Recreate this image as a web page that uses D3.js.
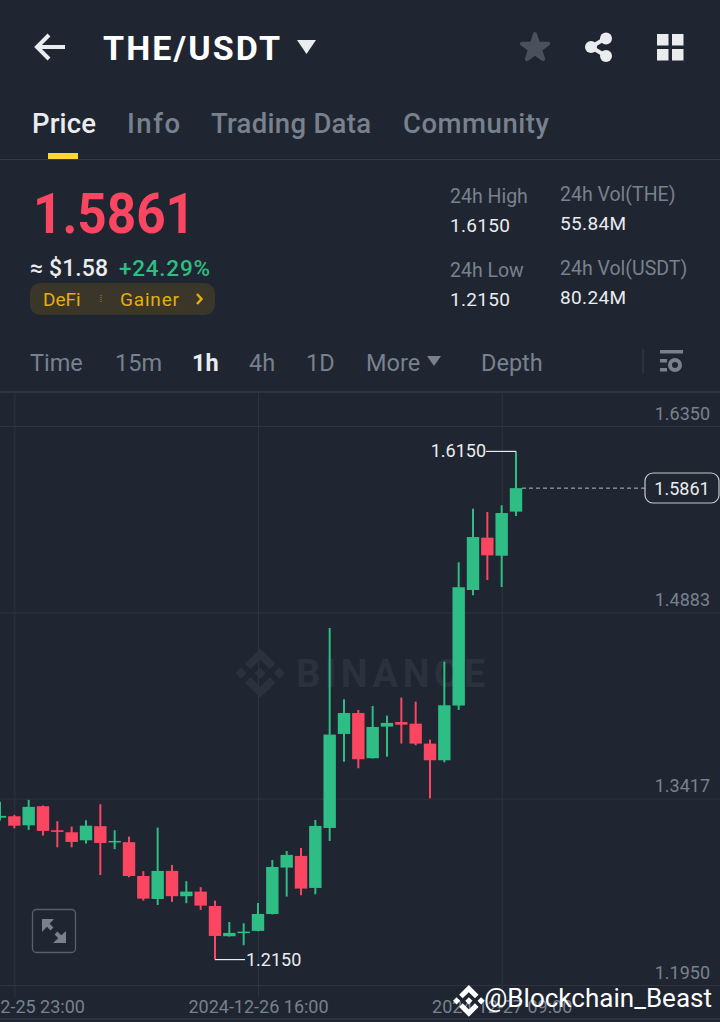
<!DOCTYPE html>
<html>
<head>
<meta charset="utf-8">
<script src="https://cdn.jsdelivr.net/npm/d3@7"></script>
<style>
  html, body { margin: 0; padding: 0; background: #1f2631; overflow: hidden; }
  text { font-family: Roboto, "Noto Sans", sans-serif; }
</style>
</head>
<body>
<svg id="chart" width="720" height="1022"></svg>
<script>
// candle data, hour offset is counted from 2024-12-25 22:00
const hours = [0,1,2,3,4,5,6,7,8,9,10,11,12,13,14,15,16,17,18,19,20,21,22,23,24,25,26,27,28,29,30,31,32,33,34,35,36]
const opens = [1.3267,1.3278,1.3207,1.3357,1.3168,1.3152,1.3089,1.3200,1.3074,1.3074,1.2808,1.2627,1.2848,1.2649,1.2685,1.2572,1.2334,1.2362,1.2376,1.2509,1.2874,1.2966,1.2714,1.3186,1.3926,1.4091,1.3735,1.3984,1.4020,1.4007,1.3850,1.3719,1.4150,1.5059,1.5471,1.5329,1.5676]
const closes = [1.3281,1.3204,1.3352,1.3163,1.3155,1.3076,1.3204,1.3068,1.3084,1.2808,1.2630,1.2848,1.2649,1.2685,1.2575,1.2336,1.2360,1.2370,1.2509,1.2879,1.2974,1.2709,1.3202,1.3921,1.4091,1.3727,1.3981,1.4013,1.3999,1.3850,1.3719,1.4152,1.5081,1.5476,1.5332,1.5665,1.5861]
const highs = [1.3393,1.3289,1.3407,1.3363,1.3239,1.3197,1.3247,1.3373,1.3168,1.3118,1.2846,1.3189,1.2895,1.2767,1.2720,1.2614,1.2446,1.2436,1.2596,1.2934,1.3005,1.3029,1.3249,1.4760,1.4199,1.4115,1.4146,1.4070,1.4212,1.4180,1.3881,1.4495,1.5277,1.5699,1.5673,1.5726,1.6150]
const lows = [1.3244,1.3184,1.3171,1.3126,1.3034,1.3034,1.3063,1.2816,1.3019,1.2798,1.2614,1.2580,1.2604,1.2594,1.2541,1.2150,1.2331,1.2263,1.2374,1.2505,1.2646,1.2657,1.2664,1.3084,1.3708,1.3656,1.3733,1.3747,1.3850,1.3837,1.3420,1.3703,1.4115,1.5018,1.5138,1.5083,1.5642]

const priceTicks = [1.6350, 1.4883, 1.3417, 1.1950]
const timeTicks = ["2024-12-25T23:00Z", "2024-12-26T16:00Z", "2024-12-27T09:00Z"]

const lastPrice = 1.5861
const dayHigh = 1.6150
const dayLow = 1.2150

const tabs = ["Price", "Info", "Trading Data", "Community"]
const intervals = ["Time", "15m", "1h", "4h", "1D", "More", "Depth"]

const bg = "#1f2631"
const green = "#2ebd85"
const red = "#fb4661"
const grey = "#79818e"
const gridCol = "#2d3440"

const svg = d3.select("#chart")
svg.append("rect").attr("width", 720).attr("height", 1022).attr("fill", bg)

const t0 = new Date("2024-12-25T22:00Z")
const times = hours.map(h => d3.utcHour.offset(t0, h))

const x = d3.scaleUtc()
    .domain([new Date(timeTicks[0]), new Date(timeTicks[2])])
    .range([14.33, 501.67])
const y = d3.scaleLinear()
    .domain([priceTicks[3], priceTicks[0]])
    .range([985, 426])

function label(txt, px, py, size, fill, weight, anchor) {
    return svg.append("text")
        .attr("x", px).attr("y", py)
        .attr("font-size", size)
        .attr("fill", fill)
        .attr("font-weight", weight || 400)
        .attr("text-anchor", anchor || "start")
        .text(txt)
}

// ---- header
svg.append("path")
    .attr("d", "M37 47H65M49 35L37 47L49 59")
    .attr("fill", "none").attr("stroke", "#eaecef").attr("stroke-width", 4)
label("THE/USDT", 103, 60, 34, "#fff", 700).attr("textLength", 177).attr("lengthAdjust", "spacing")
svg.append("path").attr("d", "M297 40H316L306.5 54Z").attr("fill", "#eaecef")

const star = d3.symbol().type(d3.symbolStar).size(215)
svg.append("path").attr("d", star()).attr("transform", "translate(535,48)").attr("fill", "#4a505c")
    .attr("stroke", "#4a505c").attr("stroke-width", 4).attr("stroke-linejoin", "round")

svg.append("path").attr("d", "M606 38L591 47L606 56").attr("fill", "none").attr("stroke", "#eaecef").attr("stroke-width", 4)
svg.selectAll(".shareDot").data([[606, 38.5], [591, 47], [606, 56]]).join("circle")
    .attr("cx", d => d[0]).attr("cy", d => d[1]).attr("r", 6).attr("fill", "#eaecef")

svg.selectAll(".gridIcon").data([[657, 34], [672, 34], [657, 49], [672, 49]]).join("rect")
    .attr("x", d => d[0]).attr("y", d => d[1]).attr("width", 11.5).attr("height", 11.5).attr("fill", "#eaecef")

const tabX = [32, 127, 211, 403]
const tabW = [64, 53, 160, 146]
tabs.forEach((t, i) => label(t, tabX[i], 133, 27.5, i == 0 ? "#eaecef" : grey, 500).attr("textLength", tabW[i]))
svg.append("rect").attr("x", 48).attr("y", 153).attr("width", 30).attr("height", 6).attr("fill", "#fcd535")
svg.append("rect").attr("x", 0).attr("y", 159).attr("width", 720).attr("height", 1).attr("fill", "#333a46")

// ---- price block
label("1.5861", 33, 233, 56, red, 700).attr("textLength", 162).attr("lengthAdjust", "spacingAndGlyphs")
label("≈ $1.58", 30, 276, 23, "#eaecef", 500).attr("textLength", 78)
label("+24.29%", 119, 276, 22.5, green, 500).attr("textLength", 91)
svg.append("rect").attr("x", 30).attr("y", 283).attr("width", 185).attr("height", 32).attr("rx", 10).attr("fill", "#3a3629")
label("DeFi", 43, 306, 19, "#e5ae0c")
label("Gainer", 120, 306, 19, "#e5ae0c").attr("textLength", 59)
svg.append("line").attr("x1", 101).attr("x2", 101).attr("y1", 295).attr("y2", 303)
    .attr("stroke", "#8a6f28").attr("stroke-width", 1.5).attr("stroke-dasharray", "1 1")
svg.append("path").attr("d", "M197 294L201.5 299L197 304").attr("fill", "none").attr("stroke", "#e5ae0c").attr("stroke-width", 2.5)

label("24h High", 450, 203, 19.5, grey)
label(dayHigh.toFixed(4), 450, 232, 19, "#eaecef").attr("textLength", 60)
label("24h Low", 450, 277, 19.5, grey)
label(dayLow.toFixed(4), 450, 306, 19, "#eaecef").attr("textLength", 60)
label("24h Vol(THE)", 560, 201, 19.5, grey)
label("55.84M", 560, 230, 19, "#eaecef").attr("textLength", 66)
label("24h Vol(USDT)", 560, 275, 19.5, grey)
label("80.24M", 560, 304, 19, "#eaecef").attr("textLength", 66)

// ---- interval bar
const intervalX = [30, 115, 192, 249, 306, 366, 481]
intervals.forEach((t, i) => label(t, intervalX[i], 371, 23.5, i == 2 ? "#eaecef" : grey, i == 2 ? 700 : 400))
svg.append("path").attr("d", "M427 356H441L434 366Z").attr("fill", grey)
svg.append("rect").attr("x", 642.5).attr("y", 349).attr("width", 1).attr("height", 24).attr("fill", "#3a414d")
svg.append("rect").attr("x", 660).attr("y", 350).attr("width", 23).attr("height", 3.5).attr("fill", grey)
svg.append("rect").attr("x", 660).attr("y", 359).attr("width", 7).attr("height", 3.5).attr("fill", grey)
svg.append("rect").attr("x", 660).attr("y", 368).attr("width", 7).attr("height", 3.5).attr("fill", grey)
svg.append("circle").attr("cx", 675).attr("cy", 365).attr("r", 5).attr("fill", "none").attr("stroke", grey).attr("stroke-width", 4)

svg.append("rect").attr("x", 0).attr("y", 391).attr("width", 720).attr("height", 2).attr("fill", gridCol)
svg.append("rect").attr("x", 0).attr("y", 1018).attr("width", 720).attr("height", 2).attr("fill", gridCol)

// ---- grid + axes
const yAxis = d3.axisRight(y)
    .tickValues(priceTicks)
    .tickSize(720)
    .tickFormat(d3.format(".4f"))
const yG = svg.append("g").call(yAxis)
yG.select(".domain").remove()
yG.selectAll(".tick line").attr("stroke", gridCol)
yG.selectAll(".tick text")
    .attr("x", 710).attr("dy", -7)
    .attr("text-anchor", "end")
    .attr("fill", grey)
    .attr("font-size", 18)
    .attr("font-family", "Roboto, sans-serif")

const xAxis = d3.axisBottom(x)
    .tickValues(timeTicks.map(d => new Date(d)))
    .tickSize(605)
    .tickFormat(d3.utcFormat("%Y-%m-%d %H:%M"))
const xG = svg.append("g").attr("transform", "translate(0,392)").call(xAxis)
xG.select(".domain").remove()
xG.selectAll(".tick line").attr("stroke", gridCol)
xG.selectAll(".tick text")
    .attr("y", 621).attr("dy", 0)
    .attr("fill", grey)
    .attr("font-size", 18)
    .attr("font-family", "Roboto, sans-serif")

// ---- watermark
const logoPath = "M38.73 53.2l24.59-24.58 24.6 24.6 14.3-14.31L63.32 0 24.43 38.9l14.3 14.3zM0 63.31l14.3-14.31 14.31 14.31-14.31 14.3zM38.73 73.41l24.59 24.59 24.6-24.6 14.31 14.29-38.9 38.91-38.91-38.88v-.03l14.31-14.28zM98.23 63.31l14.3-14.31 14.31 14.31-14.31 14.3zM77.83 63.3L63.32 48.78 52.59 59.51l-1.24 1.23-2.54 2.54 14.51 14.5 14.51-14.47z"
svg.append("path").attr("d", logoPath).attr("fill", "#2b323e")
    .attr("transform", "translate(235.5,648.5) scale(0.39)")
label("BINANCE", 296, 687, 38, "#2b323e", 700).attr("textLength", 189).attr("lengthAdjust", "spacing")

// ---- candles
const idx = d3.range(hours.length)
const colorOf = i => closes[i] >= opens[i] ? green : red
const bodyW = 12.4

svg.append("g").selectAll("line").data(idx).join("line")
    .attr("x1", i => x(times[i])).attr("x2", i => x(times[i]))
    .attr("y1", i => y(highs[i])).attr("y2", i => y(lows[i]))
    .attr("stroke", colorOf).attr("stroke-width", 2)

svg.append("g").selectAll("rect").data(idx).join("rect")
    .attr("x", i => x(times[i]) - bodyW / 2)
    .attr("width", bodyW)
    .attr("y", i => y(Math.max(opens[i], closes[i])))
    .attr("height", i => Math.max(1.5, Math.abs(y(opens[i]) - y(closes[i]))))
    .attr("fill", colorOf)

// high / low markers
const hiX = x(times[d3.maxIndex(highs)])
const loX = x(times[d3.minIndex(lows)])
svg.append("line").attr("x1", hiX - 30).attr("x2", hiX).attr("y1", y(dayHigh)).attr("y2", y(dayHigh)).attr("stroke", "#eaecef").attr("stroke-width", 1.2)
label(dayHigh.toFixed(4), hiX - 30, y(dayHigh) + 6, 18, "#eaecef", 400, "end")
svg.append("line").attr("x1", loX).attr("x2", loX + 30).attr("y1", y(dayLow)).attr("y2", y(dayLow)).attr("stroke", "#eaecef").attr("stroke-width", 1.2)
label(dayLow.toFixed(4), loX + 31, y(dayLow) + 6, 18, "#eaecef")

// last price
const lastX = x(times[times.length - 1])
svg.append("line").attr("x1", lastX + 6).attr("x2", 645).attr("y1", y(lastPrice)).attr("y2", y(lastPrice))
    .attr("stroke", "#b7bdc6").attr("stroke-width", 1).attr("stroke-dasharray", "4 3")
svg.append("rect").attr("x", 645).attr("y", 473).attr("width", 74).attr("height", 30).attr("rx", 8)
    .attr("fill", bg).attr("stroke", "#c5c9cf").attr("stroke-width", 1.2)
label(lastPrice.toFixed(4), 682, 494.5, 18, "#eaecef", 400, "middle")

// ---- expand button
svg.append("rect").attr("x", 32.5).attr("y", 909.5).attr("width", 43).attr("height", 43).attr("rx", 4)
    .attr("fill", "none").attr("stroke", "#59606c").attr("stroke-width", 1.3)
svg.append("path").attr("d", "M42 919H54L42 932ZM66 943H53L66 931Z").attr("fill", "#7a818d")
svg.append("path").attr("d", "M46 923L52 929M56 933L62 939").attr("stroke", "#7a818d").attr("stroke-width", 4).attr("fill", "none")

// ---- repost stamp
svg.append("path").attr("d", logoPath).attr("fill", "#fff")
    .attr("transform", "translate(453,985) scale(0.25)")
label("@Blockchain_Beast", 484, 1007, 26, "#fff", 400).attr("textLength", 228)
</script>
</body>
</html>
